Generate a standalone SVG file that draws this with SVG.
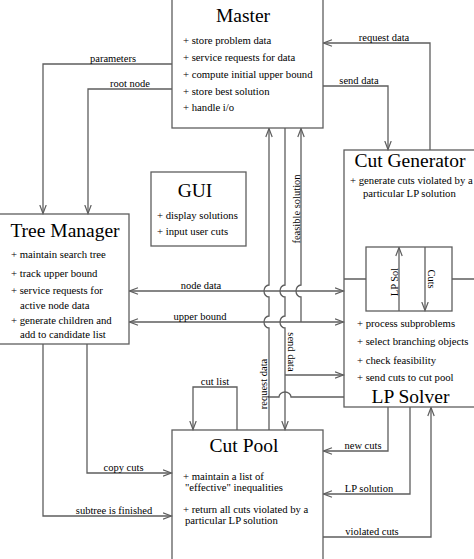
<svg xmlns="http://www.w3.org/2000/svg" width="474" height="559" viewBox="0 0 474 559">
<style>
  text { font-family: "Liberation Serif", "Times New Roman", serif; fill: #000000; }
  .title { font-size: 19.5px; text-anchor: middle; }
  .item { font-size: 10.7px; }
  .lbl { font-size: 10.5px; text-anchor: middle; }
  .box { fill: #ffffff; stroke: #5e5e5e; stroke-width: 1.3; }
  .ln { fill: none; stroke: #5e5e5e; stroke-width: 1.3; }
  .arr { marker-end: url(#ah); }
  .arr2 { marker-start: url(#ah); marker-end: url(#ah); }
</style>
<defs>
  <marker id="ah" markerUnits="userSpaceOnUse" markerWidth="10" markerHeight="8" viewBox="0 0 10 8" refX="9" refY="4" orient="auto-start-reverse">
    <path d="M0.5,0.8 L9,4 L0.5,7.2" fill="none" stroke="#5e5e5e" stroke-width="1.2"/>
  </marker>
</defs>
<rect width="474" height="559" fill="#ffffff"/>

<g id="master">
  <rect class="box" x="172" y="-2" width="151" height="130"/>
  <text class="title" x="243" y="22">Master</text>
  <text class="item" x="183" y="43.5">+ store problem data</text>
  <text class="item" x="183" y="60.5">+ service requests for data</text>
  <text class="item" x="183" y="77.5">+ compute initial upper bound</text>
  <text class="item" x="183" y="94.5">+ store best solution</text>
  <text class="item" x="183" y="111">+ handle i/o</text>
</g>

<g id="gui">
  <rect class="box" x="151" y="172" width="95" height="74"/>
  <text class="title" x="195" y="197">GUI</text>
  <text class="item" x="157" y="219">+ display solutions</text>
  <text class="item" x="157" y="234.5">+ input user cuts</text>
</g>

<g id="tree-manager">
  <rect class="box" x="-2" y="214" width="131" height="130"/>
  <text class="title" x="65" y="237">Tree Manager</text>
  <text class="item" x="11" y="257.5">+ maintain search tree</text>
  <text class="item" x="11" y="276.5">+ track upper bound</text>
  <text class="item" x="11" y="294">+ service requests for</text>
  <text class="item" x="20" y="309">active node data</text>
  <text class="item" x="11" y="323.5">+ generate children and</text>
  <text class="item" x="20" y="337.5">add to candidate list</text>
</g>

<g id="cut-generator-lp-solver">
  <rect class="box" x="344" y="150" width="140" height="257"/>
  <path class="ln" d="M344,279 H366 M452,279 H480"/>
  <text class="title" x="410" y="167">Cut Generator</text>
  <text class="item" x="350" y="183.5">+ generate cuts violated by a</text>
  <text class="item" x="363" y="197">particular LP solution</text>
  <g id="lp-cut-interface">
    <rect class="box" x="366" y="247" width="86" height="64"/>
    <path class="ln arr" d="M399,311 V247.5"/>
    <path class="ln arr" d="M425,247 V310.5"/>
    <text class="lbl" transform="translate(397.5,282) rotate(-90)">LP Sol</text>
    <text class="lbl" transform="translate(427.5,279) rotate(90)">Cuts</text>
  </g>
  <text class="item" x="357" y="326.5">+ process subproblems</text>
  <text class="item" x="357" y="345">+ select branching objects</text>
  <text class="item" x="357" y="364">+ check feasibility</text>
  <text class="item" x="357" y="380.5">+ send cuts to cut pool</text>
  <text class="title" x="410.5" y="403">LP Solver</text>
</g>

<g id="cut-pool">
  <rect class="box" x="172" y="430" width="151" height="140"/>
  <text class="title" x="244" y="452">Cut Pool</text>
  <text class="item" x="183" y="479.5">+ maintain a list of</text>
  <text class="item" x="185" y="490.5">"effective" inequalities</text>
  <text class="item" x="183" y="512.5">+ return all cuts violated by a</text>
  <text class="item" x="185" y="524">particular LP solution</text>
</g>

<g id="connectors">
  <path class="ln arr" d="M172,64 H43 V213.5"/>
  <text class="lbl" x="113" y="62">parameters</text>
  <path class="ln arr" d="M172,89 H88 V213.5"/>
  <text class="lbl" x="130" y="87">root node</text>

  <path class="ln arr" d="M430,150 V43 H323.5"/>
  <text class="lbl" x="384" y="41">request data</text>
  <path class="ln arr" d="M323,86 H388 V149.5"/>
  <text class="lbl" x="359" y="84">send data</text>

  <path class="ln arr2" d="M129.5,291 H343.5"/>
  <text class="lbl" x="201" y="289">node data</text>
  <path class="ln arr2" d="M129.5,322 H343.5"/>
  <text class="lbl" x="200" y="320">upper bound</text>

  <path class="ln arr" d="M269,430 V328 A5 6 0 0 1 269,316 V297 A5 6 0 0 1 269,285 V128.5"/>
  <text class="lbl" transform="translate(267,384) rotate(-90)">request data</text>
  <path class="ln" d="M344,397 H291 A6 5 0 0 0 279,397 H269"/>

  <path class="ln arr" d="M285,128 V285 A5 6 0 0 0 285,297 V316 A5 6 0 0 0 285,328 V429.5"/>
  <path class="ln arr" d="M285,375 H343.5"/>
  <text class="lbl" transform="translate(287.5,352) rotate(90)">send data</text>

  <path class="ln arr" d="M301,322 V297 A5 6 0 0 1 301,285 V128.5"/>
  <text class="lbl" transform="translate(299.5,209) rotate(-90)">feasible solution</text>

  <path class="ln arr" d="M87,344 V473 H171.5"/>
  <text class="lbl" x="123.5" y="471">copy cuts</text>
  <path class="ln arr" d="M43,344 V516 H171.5"/>
  <text class="lbl" x="114" y="514">subtree is finished</text>

  <path class="ln arr" d="M237,430 V387 H193 V429.5"/>
  <text class="lbl" x="215" y="385">cut list</text>

  <path class="ln arr" d="M388,407 V451 H323.5"/>
  <text class="lbl" x="363" y="449">new cuts</text>
  <path class="ln arr" d="M410,407 V494 H323.5"/>
  <text class="lbl" x="369" y="492">LP solution</text>
  <path class="ln arr" d="M323,537 H431 V407.5"/>
  <text class="lbl" x="372" y="535">violated cuts</text>
</g>
</svg>
